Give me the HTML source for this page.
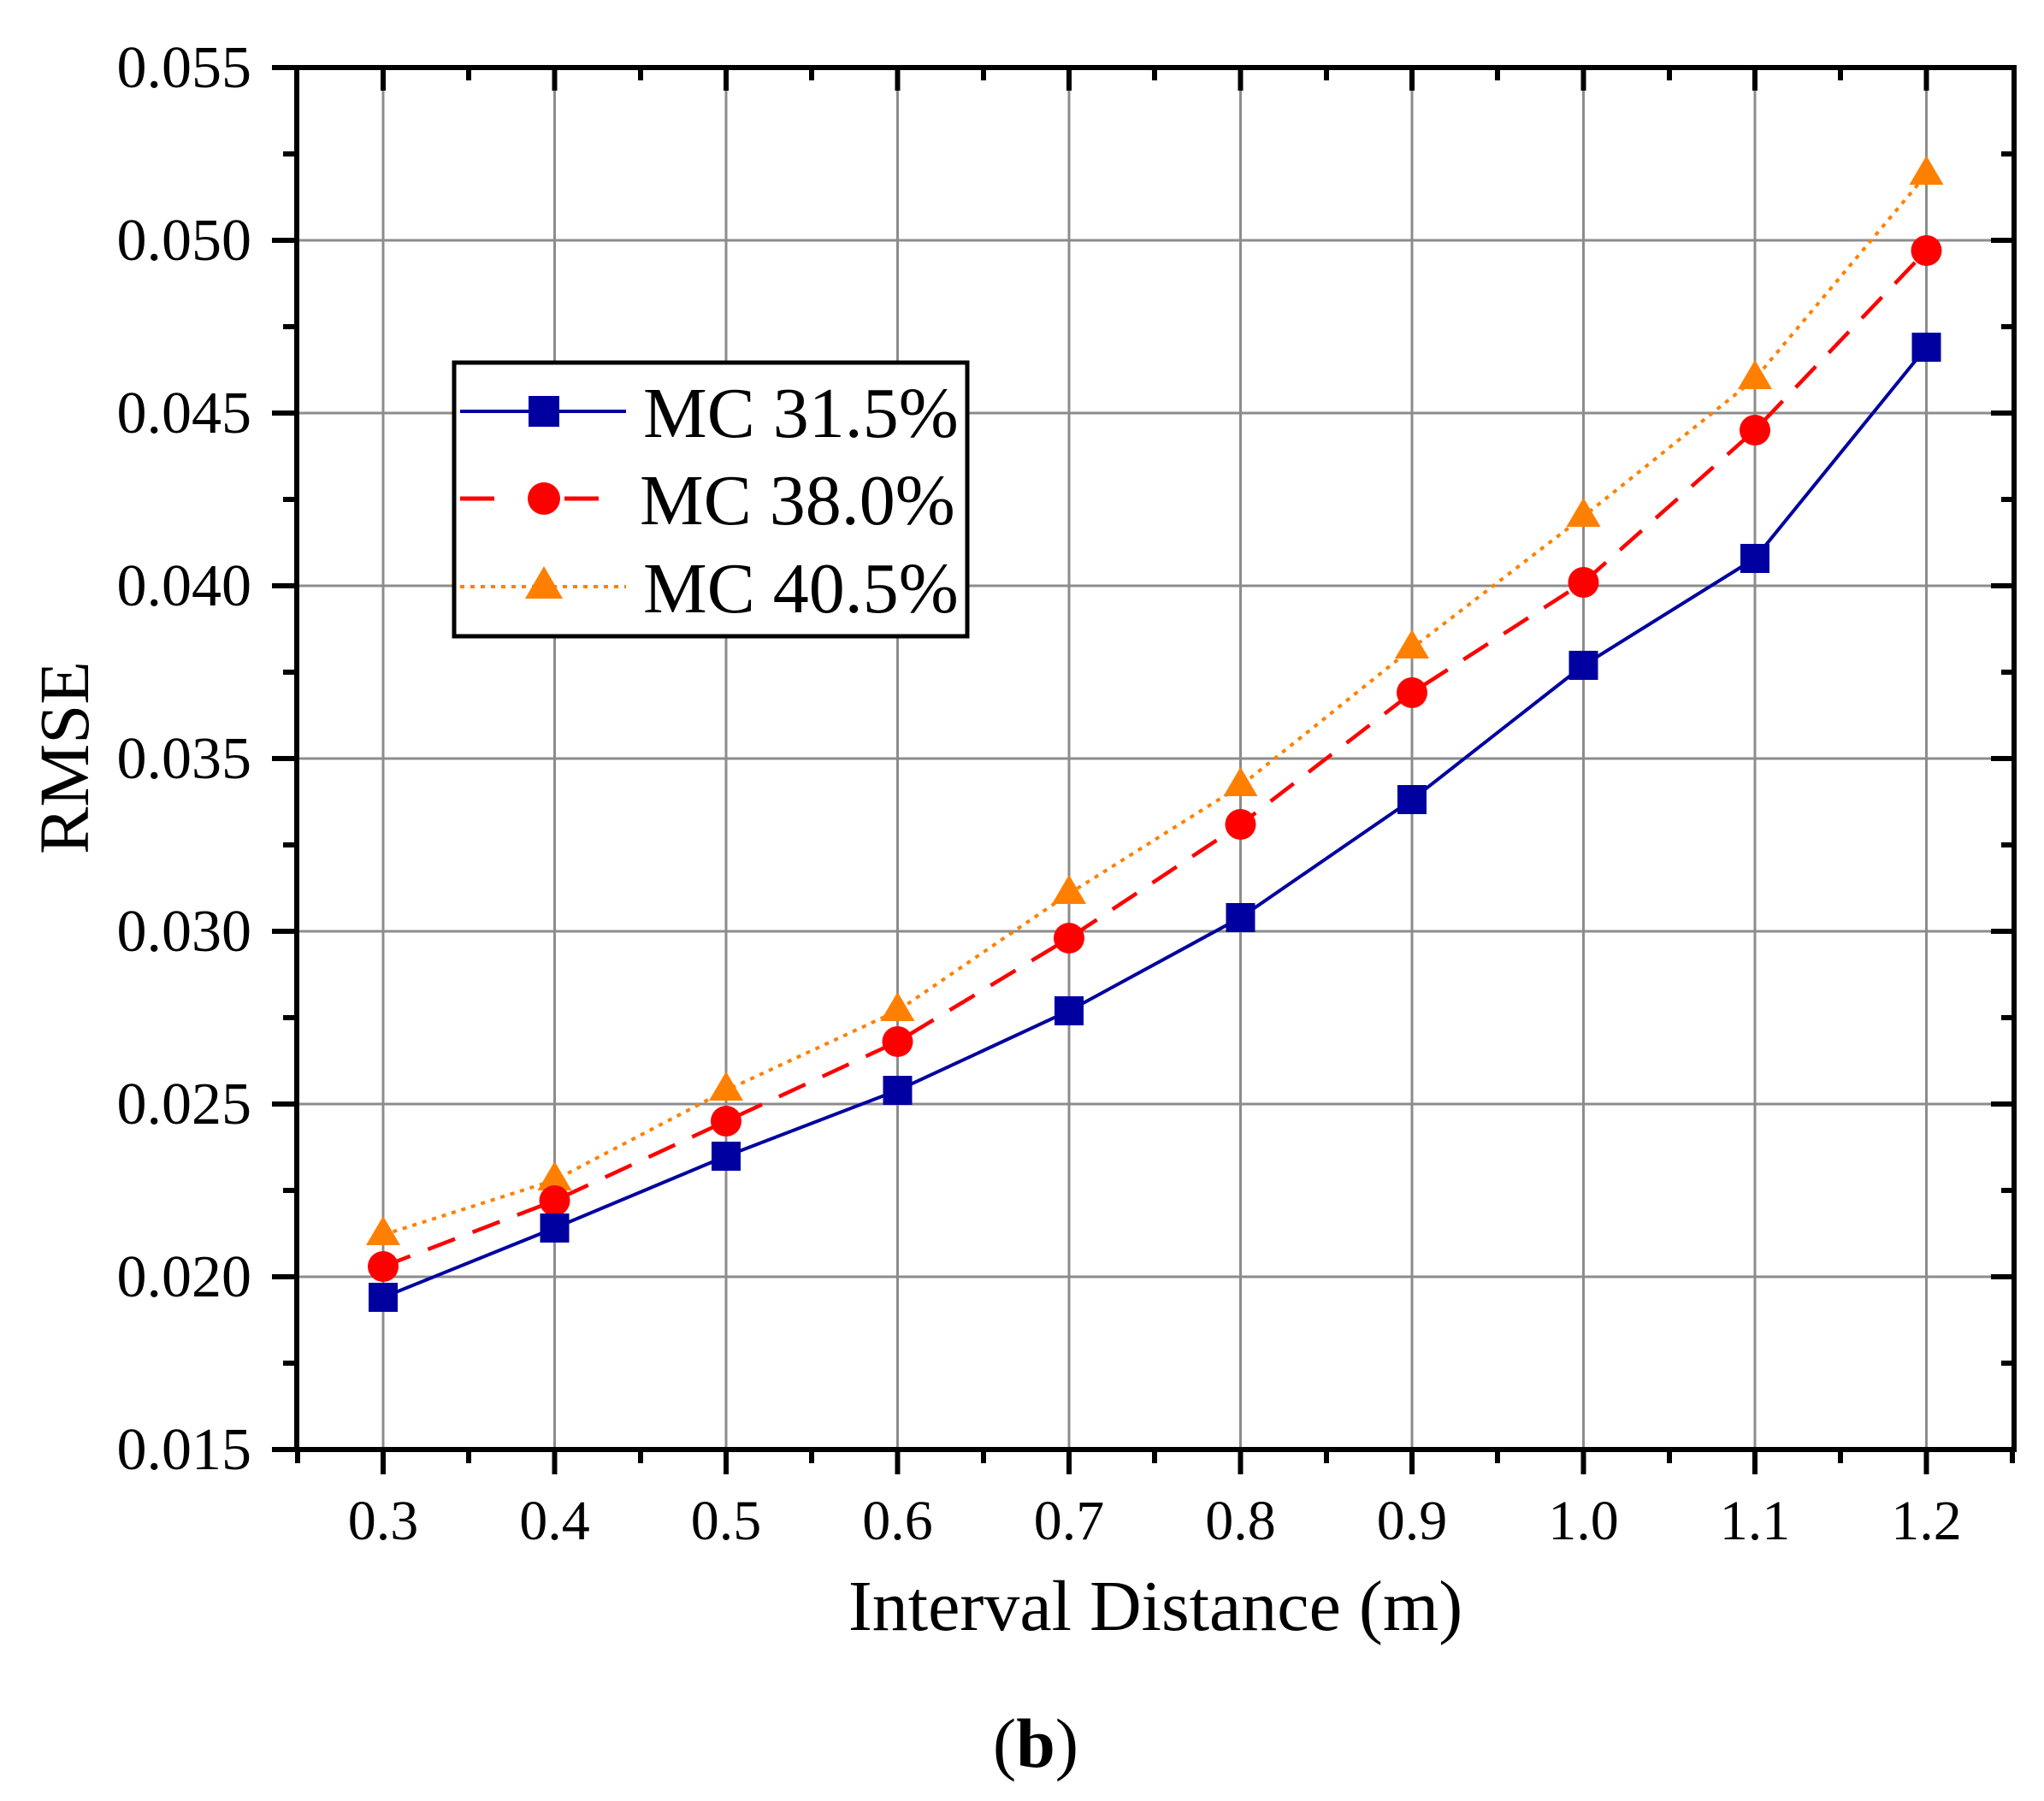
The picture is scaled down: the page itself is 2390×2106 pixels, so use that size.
<!DOCTYPE html>
<html><head><meta charset="utf-8"><style>
html,body{margin:0;padding:0;background:#fff;}
svg{display:block;}
text{font-family:"Liberation Serif",serif;fill:#000;}
</style></head><body>
<svg width="2390" height="2106" viewBox="0 0 2390 2106" xmlns="http://www.w3.org/2000/svg">
<rect width="2390" height="2106" fill="#fff"/>
<g stroke="#8c8c8c" stroke-width="3">
<line x1="347" y1="281" x2="2355" y2="281"/>
<line x1="347" y1="483" x2="2355" y2="483"/>
<line x1="347" y1="685" x2="2355" y2="685"/>
<line x1="347" y1="887" x2="2355" y2="887"/>
<line x1="347" y1="1089" x2="2355" y2="1089"/>
<line x1="347" y1="1291" x2="2355" y2="1291"/>
<line x1="347" y1="1493" x2="2355" y2="1493"/>
<line x1="448" y1="79" x2="448" y2="1695"/>
<line x1="648.5" y1="79" x2="648.5" y2="1695"/>
<line x1="849" y1="79" x2="849" y2="1695"/>
<line x1="1049.5" y1="79" x2="1049.5" y2="1695"/>
<line x1="1250" y1="79" x2="1250" y2="1695"/>
<line x1="1450.5" y1="79" x2="1450.5" y2="1695"/>
<line x1="1651" y1="79" x2="1651" y2="1695"/>
<line x1="1851.5" y1="79" x2="1851.5" y2="1695"/>
<line x1="2052" y1="79" x2="2052" y2="1695"/>
<line x1="2252.5" y1="79" x2="2252.5" y2="1695"/>
</g>
<g stroke="#000" stroke-width="6">
<line x1="318" y1="79" x2="347" y2="79"/><line x1="318" y1="281" x2="347" y2="281"/><line x1="318" y1="483" x2="347" y2="483"/><line x1="318" y1="685" x2="347" y2="685"/><line x1="318" y1="887" x2="347" y2="887"/><line x1="318" y1="1089" x2="347" y2="1089"/><line x1="318" y1="1291" x2="347" y2="1291"/><line x1="318" y1="1493" x2="347" y2="1493"/><line x1="318" y1="1695" x2="347" y2="1695"/>
<line x1="331" y1="180" x2="347" y2="180"/><line x1="331" y1="382" x2="347" y2="382"/><line x1="331" y1="584" x2="347" y2="584"/><line x1="331" y1="786" x2="347" y2="786"/><line x1="331" y1="988" x2="347" y2="988"/><line x1="331" y1="1190" x2="347" y2="1190"/><line x1="331" y1="1392" x2="347" y2="1392"/><line x1="331" y1="1594" x2="347" y2="1594"/>
<line x1="2328" y1="281" x2="2355" y2="281"/><line x1="2328" y1="483" x2="2355" y2="483"/><line x1="2328" y1="685" x2="2355" y2="685"/><line x1="2328" y1="887" x2="2355" y2="887"/><line x1="2328" y1="1089" x2="2355" y2="1089"/><line x1="2328" y1="1291" x2="2355" y2="1291"/><line x1="2328" y1="1493" x2="2355" y2="1493"/>
<line x1="2340" y1="180" x2="2355" y2="180"/><line x1="2340" y1="382" x2="2355" y2="382"/><line x1="2340" y1="584" x2="2355" y2="584"/><line x1="2340" y1="786" x2="2355" y2="786"/><line x1="2340" y1="988" x2="2355" y2="988"/><line x1="2340" y1="1190" x2="2355" y2="1190"/><line x1="2340" y1="1392" x2="2355" y2="1392"/><line x1="2340" y1="1594" x2="2355" y2="1594"/>
<line x1="448" y1="1695" x2="448" y2="1724"/><line x1="648.5" y1="1695" x2="648.5" y2="1724"/><line x1="849" y1="1695" x2="849" y2="1724"/><line x1="1049.5" y1="1695" x2="1049.5" y2="1724"/><line x1="1250" y1="1695" x2="1250" y2="1724"/><line x1="1450.5" y1="1695" x2="1450.5" y2="1724"/><line x1="1651" y1="1695" x2="1651" y2="1724"/><line x1="1851.5" y1="1695" x2="1851.5" y2="1724"/><line x1="2052" y1="1695" x2="2052" y2="1724"/><line x1="2252.5" y1="1695" x2="2252.5" y2="1724"/>
<line x1="348" y1="1695" x2="348" y2="1711"/><line x1="548" y1="1695" x2="548" y2="1711"/><line x1="749" y1="1695" x2="749" y2="1711"/><line x1="949" y1="1695" x2="949" y2="1711"/><line x1="1150" y1="1695" x2="1150" y2="1711"/><line x1="1350" y1="1695" x2="1350" y2="1711"/><line x1="1551" y1="1695" x2="1551" y2="1711"/><line x1="1751" y1="1695" x2="1751" y2="1711"/><line x1="1952" y1="1695" x2="1952" y2="1711"/><line x1="2152" y1="1695" x2="2152" y2="1711"/><line x1="2353" y1="1695" x2="2353" y2="1711"/>
<line x1="448" y1="79" x2="448" y2="106"/><line x1="648.5" y1="79" x2="648.5" y2="106"/><line x1="849" y1="79" x2="849" y2="106"/><line x1="1049.5" y1="79" x2="1049.5" y2="106"/><line x1="1250" y1="79" x2="1250" y2="106"/><line x1="1450.5" y1="79" x2="1450.5" y2="106"/><line x1="1651" y1="79" x2="1651" y2="106"/><line x1="1851.5" y1="79" x2="1851.5" y2="106"/><line x1="2052" y1="79" x2="2052" y2="106"/><line x1="2252.5" y1="79" x2="2252.5" y2="106"/>
<line x1="548" y1="79" x2="548" y2="94"/><line x1="749" y1="79" x2="749" y2="94"/><line x1="949" y1="79" x2="949" y2="94"/><line x1="1150" y1="79" x2="1150" y2="94"/><line x1="1350" y1="79" x2="1350" y2="94"/><line x1="1551" y1="79" x2="1551" y2="94"/><line x1="1751" y1="79" x2="1751" y2="94"/><line x1="1952" y1="79" x2="1952" y2="94"/><line x1="2152" y1="79" x2="2152" y2="94"/>
</g>
<rect x="347" y="79" width="2008" height="1616" fill="none" stroke="#000" stroke-width="6"/>
<polyline fill="none" stroke="#ff8000" stroke-width="4" stroke-dasharray="5,7" points="448,1444 648.5,1380 849,1275 1049.5,1182 1250,1045 1450.5,919 1651,758 1851.5,604 2052,443 2252.5,204"/>
<polyline fill="none" stroke="#ff0000" stroke-width="4.5" stroke-dasharray="34,22" points="448,1481 648.5,1404 849,1311 1049.5,1218 1250,1097 1450.5,964 1651,810 1851.5,681 2052,503 2252.5,293"/>
<polyline fill="none" stroke="#0000a0" stroke-width="4" points="448,1517 648.5,1436 849,1352 1049.5,1275 1250,1182 1450.5,1073 1651,935 1851.5,778 2052,653 2252.5,406"/>
<g fill="#ff8000">
<polygon points="448,1422 468,1456 428,1456"/><polygon points="648.5,1358 668.5,1392 628.5,1392"/><polygon points="849,1253 869,1287 829,1287"/><polygon points="1049.5,1160 1069.5,1194 1029.5,1194"/><polygon points="1250,1023 1270,1057 1230,1057"/><polygon points="1450.5,897 1470.5,931 1430.5,931"/><polygon points="1651,736 1671,770 1631,770"/><polygon points="1851.5,582 1871.5,616 1831.5,616"/><polygon points="2052,421 2072,455 2032,455"/><polygon points="2252.5,182 2272.5,216 2232.5,216"/>
</g>
<g fill="#ff0000">
<circle cx="448" cy="1481" r="18"/><circle cx="648.5" cy="1404" r="18"/><circle cx="849" cy="1311" r="18"/><circle cx="1049.5" cy="1218" r="18"/><circle cx="1250" cy="1097" r="18"/><circle cx="1450.5" cy="964" r="18"/><circle cx="1651" cy="810" r="18"/><circle cx="1851.5" cy="681" r="18"/><circle cx="2052" cy="503" r="18"/><circle cx="2252.5" cy="293" r="18"/>
</g>
<g fill="#0000a0">
<rect x="431" y="1500" width="34" height="34"/><rect x="631.5" y="1419" width="34" height="34"/><rect x="832" y="1335" width="34" height="34"/><rect x="1032.5" y="1258" width="34" height="34"/><rect x="1233" y="1165" width="34" height="34"/><rect x="1433.5" y="1056" width="34" height="34"/><rect x="1634" y="918" width="34" height="34"/><rect x="1834.5" y="761" width="34" height="34"/><rect x="2035" y="636" width="34" height="34"/><rect x="2235.5" y="389" width="34" height="34"/>
</g>
<rect x="531" y="424" width="600" height="320" fill="#fff" stroke="#000" stroke-width="5"/>
<line x1="538" y1="481" x2="732" y2="481" stroke="#0000a0" stroke-width="4"/>
<rect x="618" y="463" width="36" height="36" fill="#0000a0"/>
<line x1="538" y1="583" x2="732" y2="583" stroke="#ff0000" stroke-width="5" stroke-dasharray="40,82"/>
<circle cx="636" cy="583" r="19" fill="#ff0000"/>
<line x1="538" y1="686" x2="732" y2="686" stroke="#ff8000" stroke-width="4" stroke-dasharray="5,7"/>
<polygon points="636,662 658,700 614,700" fill="#ff8000"/>
<g font-size="84">
<text x="752" y="511">MC 31.5%</text>
<text x="748" y="613">MC 38.0%</text>
<text x="752" y="716">MC 40.5%</text>
</g>
<g font-size="70" text-anchor="end">
<text x="294" y="102">0.055</text><text x="294" y="304">0.050</text><text x="294" y="506">0.045</text><text x="294" y="708">0.040</text><text x="294" y="910">0.035</text><text x="294" y="1112">0.030</text><text x="294" y="1314">0.025</text><text x="294" y="1516">0.020</text><text x="294" y="1718">0.015</text>
</g>
<g font-size="66" text-anchor="middle">
<text x="448" y="1800">0.3</text><text x="648.5" y="1800">0.4</text><text x="849" y="1800">0.5</text><text x="1049.5" y="1800">0.6</text><text x="1250" y="1800">0.7</text><text x="1450.5" y="1800">0.8</text><text x="1651" y="1800">0.9</text><text x="1851.5" y="1800">1.0</text><text x="2052" y="1800">1.1</text><text x="2252.5" y="1800">1.2</text>
</g>
<text x="1351" y="1906" font-size="84" text-anchor="middle">Interval Distance (m)</text>
<text transform="translate(103,886) rotate(-90)" font-size="83" text-anchor="middle">RMSE</text>
<text x="1211" y="2066" font-size="82" text-anchor="middle">(<tspan font-weight="bold">b</tspan>)</text>
</svg>
</body></html>
